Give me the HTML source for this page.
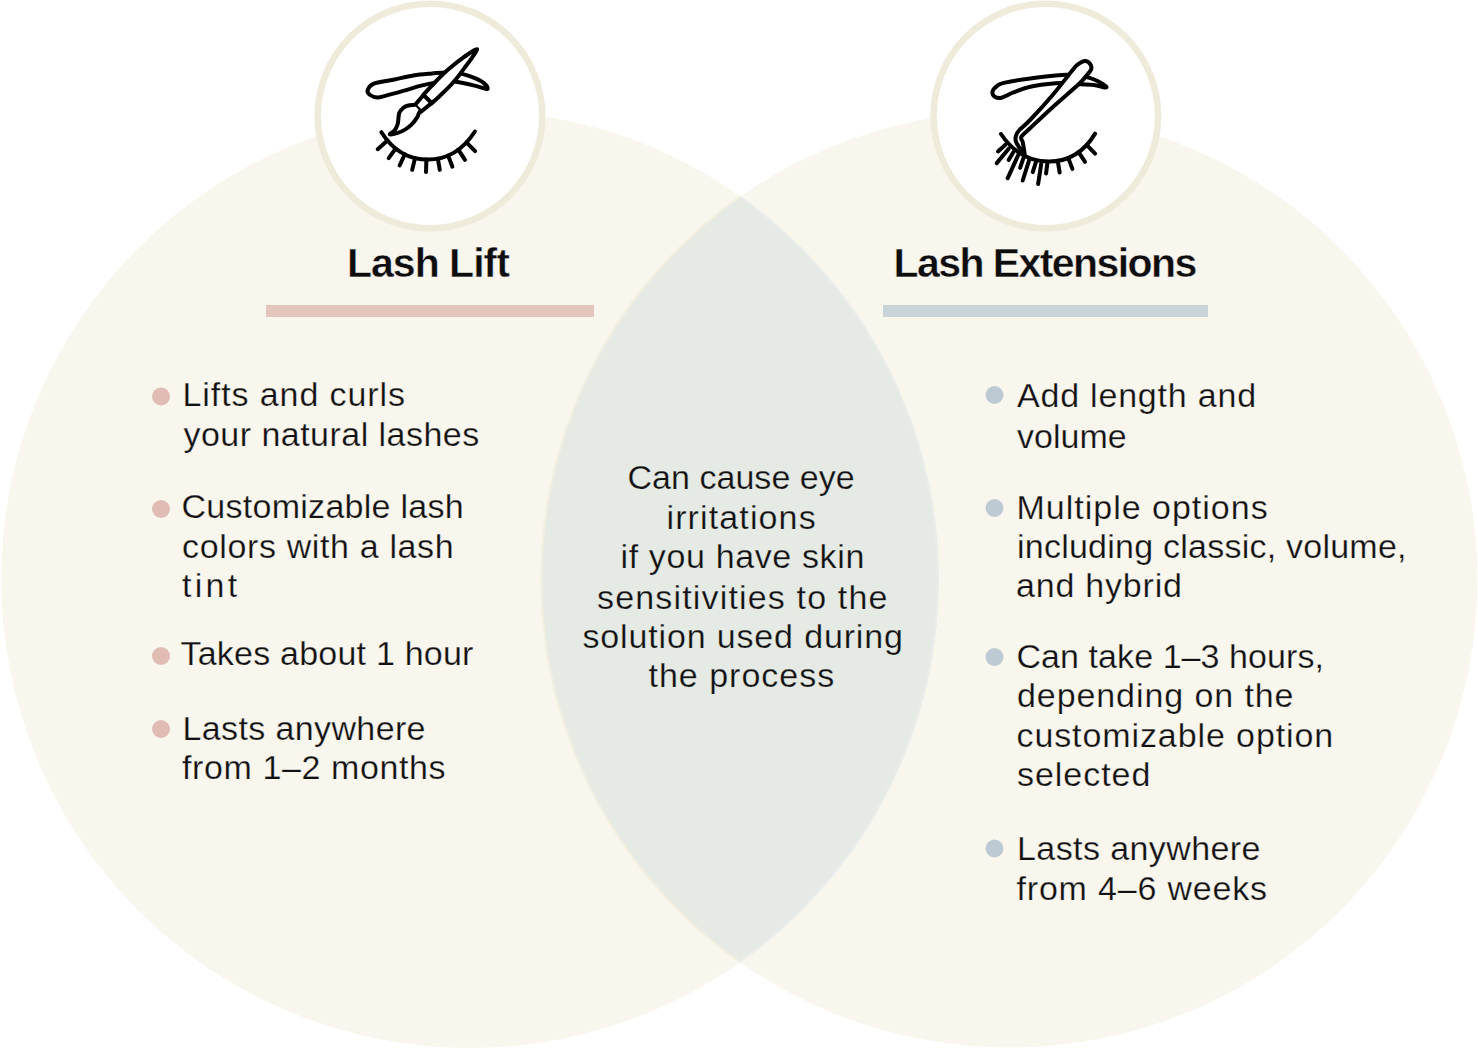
<!DOCTYPE html>
<html><head><meta charset="utf-8">
<style>
html,body{margin:0;padding:0;background:#fff;width:1478px;height:1048px;overflow:hidden}
svg{display:block}
.b{font-family:"Liberation Sans",sans-serif;font-size:34px;fill:#111;stroke:#f9f6ee;stroke-width:0.25px}
.c{stroke:#e6eae4}
.t{font-family:"Liberation Sans",sans-serif;font-size:41px;font-weight:bold;fill:#0d0d0d;stroke:#f9f6ee;stroke-width:0.4px}
.ic{fill:none;stroke:#000;stroke-width:4.0;stroke-linecap:round;stroke-linejoin:round}
</style></head>
<body>
<svg width="1478" height="1048" viewBox="0 0 1478 1048">
<defs>
<clipPath id="cl"><circle cx="470" cy="579.2" r="468.8"/></clipPath>
<clipPath id="cr"><circle cx="1009.4" cy="579.6" r="468"/></clipPath>
</defs>
<circle cx="470" cy="579.2" r="468.8" fill="#f9f6ee"/>
<circle cx="1009.4" cy="579.6" r="468" fill="#f9f6ee"/>
<g clip-path="url(#cl)"><circle cx="1009.4" cy="579.6" r="468" fill="#e6eae4" stroke="#f2efe0" stroke-width="2.2"/></g>
<g clip-path="url(#cr)"><circle cx="470" cy="579.2" r="467.7" fill="none" stroke="#e8edeb" stroke-width="2.2"/></g>
<circle cx="430" cy="116" r="112.3" fill="#fff" stroke="#efebdb" stroke-width="6.6"/>
<circle cx="1045.8" cy="116" r="112.3" fill="#fff" stroke="#efebdb" stroke-width="6.6"/>
<path class="ic" d="M373.40,83.80 C377.70,82.02 386.73,81.08 393.40,79.70 C400.07,78.32 406.95,76.53 413.40,75.50 C419.85,74.47 426.50,74.02 432.10,73.50 C437.70,72.98 441.87,72.30 447.00,72.40 C452.13,72.50 458.03,73.05 462.90,74.10 C467.77,75.15 472.65,77.15 476.20,78.70 C479.75,80.25 482.30,81.83 484.20,83.40 C486.10,84.97 487.37,87.20 487.60,88.10 C487.83,89.00 487.95,89.25 485.60,88.80 C483.25,88.35 478.40,86.58 473.50,85.40 C468.60,84.22 460.95,82.38 456.20,81.70 C451.45,81.02 448.57,81.15 445.00,81.30 C441.43,81.45 438.95,81.83 434.80,82.60 C430.65,83.37 425.22,84.57 420.10,85.90 C414.98,87.23 409.67,89.02 404.10,90.60 C398.53,92.18 391.15,94.27 386.70,95.40 C382.25,96.53 380.18,97.47 377.40,97.40 C374.62,97.33 371.63,96.17 370.00,95.00 C368.37,93.83 367.03,92.27 367.60,90.40 C368.17,88.53 369.10,85.58 373.40,83.80 Z"/>
<path class="ic" fill="#fff" style="fill:#fff" d="M423.33,94.83 C424.67,93.39 428.89,88.87 431.39,86.20 C433.89,83.54 436.00,81.22 438.32,78.85 C440.64,76.48 443.02,74.10 445.32,71.99 C447.61,69.88 449.64,68.21 452.10,66.20 C454.57,64.18 457.31,61.98 460.09,59.90 C462.87,57.83 465.94,55.52 468.79,53.75 C471.64,51.98 476.74,48.53 477.20,49.30 C477.66,50.06 473.66,55.25 471.55,58.35 C469.44,61.45 466.84,64.77 464.55,67.89 C462.25,71.01 460.05,74.23 457.76,77.08 C455.47,79.93 453.32,82.35 450.83,85.00 C448.34,87.65 445.61,90.32 442.84,92.99 C440.07,95.67 436.07,99.34 434.22,101.05 C432.37,102.76 432.15,102.88 431.74,103.24 Z"/>
<path class="ic" style="fill:#fff" d="M423.54,95.04 L414.63,105.36 L421.00,111.73 L431.60,103.10 Z"/>
<path class="ic" style="fill:#fff" d="M414.40,105.00 C413.25,105.13 409.38,105.28 407.50,105.80 C405.62,106.32 404.47,106.92 403.10,108.10 C401.73,109.28 400.08,111.15 399.30,112.90 C398.52,114.65 398.68,116.68 398.40,118.60 C398.12,120.52 398.25,122.40 397.60,124.40 C396.95,126.40 395.80,128.95 394.50,130.60 C393.20,132.25 389.40,133.87 389.80,134.30 C390.20,134.73 394.37,133.98 396.90,133.20 C399.43,132.42 402.53,131.07 405.00,129.60 C407.47,128.13 409.70,126.38 411.70,124.40 C413.70,122.42 415.82,119.52 417.00,117.70 C418.18,115.88 418.30,114.57 418.80,113.50 C419.30,112.43 419.80,111.67 420.00,111.30"/>
<path class="ic" d="M381.4,132.2 C393,150.5 409,159.6 428,159.6 C447,159.6 463,150 474.9,131.5"/>
<path class="ic" d="M387.45,140.46 L377.70,149.20"/>
<path class="ic" d="M395.70,148.50 L388.70,158.10"/>
<path class="ic" d="M404.79,154.31 L399.60,165.50"/>
<path class="ic" d="M415.06,158.08 L412.20,169.90"/>
<path class="ic" d="M426.39,159.58 L426.00,172.00"/>
<path class="ic" d="M437.82,158.70 L439.80,169.90"/>
<path class="ic" d="M448.10,155.57 L452.40,166.70"/>
<path class="ic" d="M458.32,149.69 L465.00,159.80"/>
<path class="ic" d="M466.41,142.46 L475.10,151.20"/>
<path class="ic" d="M997.80,85.30 C999.85,83.85 999.48,83.75 1004.90,82.60 C1010.32,81.45 1021.83,79.58 1030.30,78.40 C1038.77,77.22 1049.63,76.10 1055.70,75.50 C1061.77,74.90 1062.98,74.78 1066.70,74.80 C1070.42,74.82 1074.33,75.12 1078.00,75.60 C1081.67,76.08 1085.37,76.75 1088.70,77.70 C1092.03,78.65 1095.15,79.88 1098.00,81.30 C1100.85,82.72 1104.67,85.18 1105.80,86.20 C1106.93,87.22 1106.80,87.62 1104.80,87.40 C1102.80,87.18 1097.75,85.43 1093.80,84.90 C1089.85,84.37 1085.40,84.45 1081.10,84.20 C1076.80,83.95 1072.23,83.55 1068.00,83.40 C1063.77,83.25 1061.98,82.75 1055.70,83.30 C1049.42,83.85 1037.35,85.18 1030.30,86.70 C1023.25,88.22 1018.20,90.55 1013.40,92.40 C1008.60,94.25 1004.63,97.10 1001.50,97.80 C998.37,98.50 996.08,97.68 994.60,96.60 C993.12,95.52 992.07,93.18 992.60,91.30 C993.13,89.42 995.75,86.75 997.80,85.30 Z"/>
<path class="ic" style="fill:#fff" d="M1022.10,151.40 C1021.53,150.62 1019.77,148.48 1018.70,146.70 C1017.63,144.92 1016.13,142.58 1015.70,140.70 C1015.27,138.82 1015.48,137.18 1016.10,135.40 C1016.72,133.62 1017.07,132.57 1019.40,130.00 C1021.73,127.43 1024.52,125.88 1030.10,120.00 C1035.68,114.12 1046.05,102.73 1052.90,94.70 C1059.75,86.67 1067.13,76.77 1071.20,71.80 C1075.27,66.83 1075.00,66.68 1077.30,64.90 C1079.60,63.12 1082.83,61.22 1085.00,61.10 C1087.17,60.98 1089.28,62.80 1090.30,64.20 C1091.32,65.60 1091.73,67.60 1091.10,69.50 C1090.47,71.40 1088.53,73.18 1086.50,75.60 C1084.47,78.02 1084.50,78.78 1078.90,84.00 C1073.30,89.22 1061.05,99.52 1052.90,106.90 C1044.75,114.28 1035.25,123.33 1030.00,128.30 C1024.75,133.27 1022.62,134.42 1021.40,136.70 C1020.18,138.98 1022.25,139.77 1022.70,142.00 C1023.15,144.23 1023.77,147.98 1024.10,150.10 C1024.43,152.22 1024.60,153.93 1024.70,154.70"/>
<path class="ic" d="M1001,134 C1013,152 1030,161.5 1049,161.5 C1068,161.5 1084,152 1095.1,133.6"/>
<path class="ic" d="M1008.70,148.70 L996.70,163.10"/>
<path class="ic" d="M1018.10,155.40 L1007.70,178.10"/>
<path class="ic" d="M1029.40,159.40 L1022.70,180.50"/>
<path class="ic" d="M1041.40,162.80 L1038.10,184.10"/>
<path class="ic" d="M1005.40,144.70 L998.00,151.40"/>
<path class="ic" d="M1013.40,152.10 L1008.70,160.10"/>
<path class="ic" d="M1023.40,158.10 L1020.10,167.80"/>
<path class="ic" d="M1036.10,161.40 L1032.80,172.10"/>
<path class="ic" d="M1047.40,162.80 L1046.10,173.40"/>
<path class="ic" d="M1057.72,160.80 L1059.70,172.60"/>
<path class="ic" d="M1068.20,157.86 L1072.40,168.90"/>
<path class="ic" d="M1078.62,152.05 L1085.00,161.80"/>
<path class="ic" d="M1086.62,144.94 L1095.10,153.60"/>
<rect x="266" y="305" width="328" height="12" fill="#e4c6bd"/>
<rect x="883" y="305" width="325" height="12" fill="#c9d4d9"/>
<g fill="#e0bcb4">
<circle cx="161" cy="396.5" r="9"/><circle cx="161" cy="509" r="9"/><circle cx="161" cy="656" r="9"/><circle cx="161" cy="729" r="9"/>
</g>
<g fill="#bdcad3">
<circle cx="994.5" cy="395" r="9"/><circle cx="994.5" cy="508" r="9"/><circle cx="994.5" cy="657" r="9"/><circle cx="994.5" cy="848.5" r="9"/>
</g>
<text class="b" x="182.50" y="406.1" letter-spacing="0.914">Lifts and curls</text>
<text class="b" x="183.50" y="446.0" letter-spacing="0.467">your natural lashes</text>
<text class="b" x="181.50" y="518.0" letter-spacing="0.275">Customizable lash</text>
<text class="b" x="182.00" y="558.0" letter-spacing="0.641">colors with a lash</text>
<text class="b" x="182.00" y="597.2" letter-spacing="3.300">tint</text>
<text class="b" x="180.50" y="665.2" letter-spacing="0.218">Takes about 1 hour</text>
<text class="b" x="182.50" y="739.6" letter-spacing="0.377">Lasts anywhere</text>
<text class="b" x="182.00" y="778.7" letter-spacing="0.600">from 1–2 months</text>
<text class="b" x="1017.00" y="407.0" letter-spacing="0.792">Add length and</text>
<text class="b" x="1017.00" y="447.6" letter-spacing="0.020">volume</text>
<text class="b" x="1016.50" y="518.5" letter-spacing="0.993">Multiple options</text>
<text class="b" x="1017.00" y="558.3" letter-spacing="0.236">including classic, volume,</text>
<text class="b" x="1016.00" y="597.2" letter-spacing="0.789">and hybrid</text>
<text class="b" x="1016.50" y="668.4" letter-spacing="0.067">Can take 1–3 hours,</text>
<text class="b" x="1017.00" y="707.1" letter-spacing="0.913">depending on the</text>
<text class="b" x="1016.50" y="747.2" letter-spacing="0.900">customizable option</text>
<text class="b" x="1017.00" y="785.7" letter-spacing="0.957">selected</text>
<text class="b" x="1017.00" y="860.3" letter-spacing="0.408">Lasts anywhere</text>
<text class="b" x="1016.50" y="899.6" letter-spacing="0.808">from 4–6 weeks</text>
<text class="b c" x="627.50" y="488.7" letter-spacing="0.033">Can cause eye</text>
<text class="b c" x="666.50" y="528.9" letter-spacing="1.120">irritations</text>
<text class="b c" x="620.50" y="568.0" letter-spacing="0.633">if you have skin</text>
<text class="b c" x="597.00" y="609.0" letter-spacing="1.163">sensitivities to the</text>
<text class="b c" x="582.50" y="648.3" letter-spacing="0.847">solution used during</text>
<text class="b c" x="648.50" y="687.3" letter-spacing="1.000">the process</text>
<text class="t" x="347.00" y="277" letter-spacing="-1.000">Lash Lift</text>
<text class="t" x="893.50" y="277.2" letter-spacing="-1.571">Lash Extensions</text>
</svg>
</body></html>
